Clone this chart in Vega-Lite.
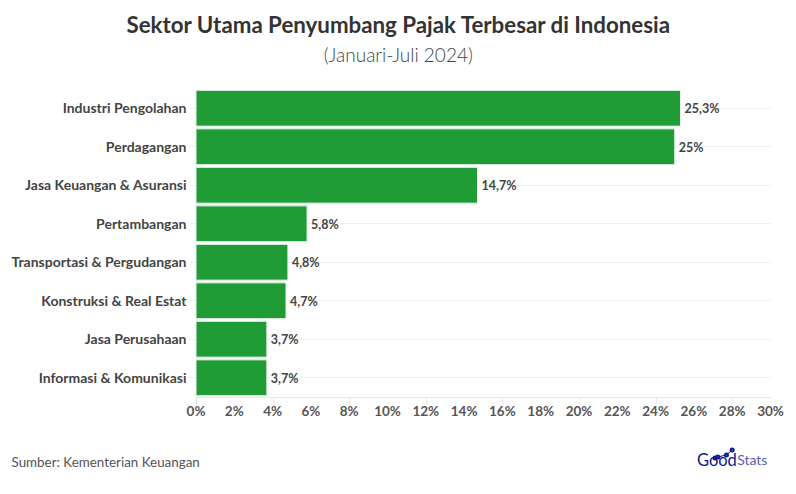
{
  "$schema": "https://vega.github.io/schema/vega-lite/v6.json",
  "description": "Sektor utama penyumbang pajak terbesar di Indonesia, Januari-Juli 2024.",
  "width": 574.5,
  "height": 308,
  "autosize": "none",
  "padding": {"left": 196, "top": 89, "right": 25.5, "bottom": 97},
  "background": "white",
  "config": {
    "font": "Lato",
    "view": {"stroke": null},
    "axisX": {
      "labels": false,
      "grid": false,
      "domainColor": "#e6e6e6",
      "tickColor": "#e6e6e6",
      "tickSize": 7,
      "titleAnchor": "start",
      "titleAlign": "left",
      "titleBaseline": "middle",
      "titleX": -185,
      "titleY": 65,
      "titleFontSize": 13.4,
      "titleFontWeight": "normal",
      "titleColor": "#555555"
    }
  },
  "title": {
    "text": "Sektor Utama Penyumbang Pajak Terbesar di Indonesia",
    "subtitle": "(Januari-Juli 2024)",
    "anchor": "middle",
    "frame": "group",
    "dx": -85,
    "offset": 23,
    "fontSize": 22.3,
    "fontWeight": "bold",
    "color": "#333333",
    "subtitleFontSize": 19,
    "subtitleFontWeight": 300,
    "subtitleColor": "#444444",
    "subtitlePadding": 10
  },
  "datasets": {
    "pajak": [
      {"sektor": "Industri Pengolahan", "persen": 25.3, "label": "25,3%"},
      {"sektor": "Perdagangan", "persen": 25, "label": "25%"},
      {"sektor": "Jasa Keuangan & Asuransi", "persen": 14.7, "label": "14,7%"},
      {"sektor": "Pertambangan", "persen": 5.8, "label": "5,8%"},
      {"sektor": "Transportasi & Pergudangan", "persen": 4.8, "label": "4,8%"},
      {"sektor": "Konstruksi & Real Estat", "persen": 4.7, "label": "4,7%"},
      {"sektor": "Jasa Perusahaan", "persen": 3.7, "label": "3,7%"},
      {"sektor": "Informasi & Komunikasi", "persen": 3.7, "label": "3,7%"}
    ],
    "sumbuX": [
      {"x": 0, "y": -0.049, "teks": "0%"},
      {"x": 2, "y": -0.049, "teks": "2%"},
      {"x": 4, "y": -0.049, "teks": "4%"},
      {"x": 6, "y": -0.049, "teks": "6%"},
      {"x": 8, "y": -0.049, "teks": "8%"},
      {"x": 10, "y": -0.049, "teks": "10%"},
      {"x": 12, "y": -0.049, "teks": "12%"},
      {"x": 14, "y": -0.049, "teks": "14%"},
      {"x": 16, "y": -0.049, "teks": "16%"},
      {"x": 18, "y": -0.049, "teks": "18%"},
      {"x": 20, "y": -0.049, "teks": "20%"},
      {"x": 22, "y": -0.049, "teks": "22%"},
      {"x": 24, "y": -0.049, "teks": "24%"},
      {"x": 26, "y": -0.049, "teks": "26%"},
      {"x": 28, "y": -0.049, "teks": "28%"},
      {"x": 30, "y": -0.049, "teks": "30%"}
    ],
    "logoTeks": [
      {"x": 27.2, "y": -0.208, "teks": "Good", "bagian": "a"},
      {"x": 29.05, "y": -0.208, "teks": "Stats", "bagian": "b"}
    ],
    "logoGaris": [
      {"x": 27.1, "y": -0.198},
      {"x": 27.25, "y": -0.195},
      {"x": 27.7, "y": -0.188},
      {"x": 28.0, "y": -0.172}
    ]
  },
  "layer": [
    {
      "data": {"name": "pajak"},
      "mark": {"type": "bar", "color": "#1f9c36", "stroke": "#e9f3eb", "strokeWidth": 1},
      "encoding": {
        "y": {
          "field": "sektor",
          "type": "nominal",
          "sort": null,
          "title": null,
          "scale": {"paddingInner": 0.07, "paddingOuter": 0.035},
          "axis": {
            "grid": true,
            "gridColor": "#eeeeee",
            "domainColor": "#e6e6e6",
            "tickColor": "#eeeeee",
            "tickSize": 7,
            "labelPadding": 3,
            "labelOffset": 1,
            "labelFontSize": 14,
            "labelFontWeight": "bold",
            "labelColor": "#444444",
            "labelLimit": 220
          }
        },
        "x": {
          "field": "persen",
          "type": "quantitative",
          "title": "Sumber: Kementerian Keuangan",
          "scale": {"domain": [0, 30], "nice": false},
          "axis": {
            "values": [0, 2, 4, 6, 8, 10, 12, 14, 16, 18, 20, 22, 24, 26, 28, 30],
            "labels": false
          }
        }
      }
    },
    {
      "data": {"name": "pajak"},
      "mark": {"type": "text", "align": "left", "dx": 4, "dy": 1, "fontSize": 12.5, "fontWeight": "bold", "color": "#444444"},
      "encoding": {
        "y": {
          "field": "sektor",
          "type": "nominal",
          "sort": null,
          "scale": {"paddingInner": 0.07, "paddingOuter": 0.035},
          "axis": null
        },
        "x": {"field": "persen", "type": "quantitative"},
        "text": {"field": "label"}
      }
    },
    {
      "data": {"name": "sumbuX"},
      "mark": {"type": "text", "baseline": "middle", "fontSize": 13.5, "fontWeight": "bold", "color": "#555555", "clip": false},
      "encoding": {
        "x": {"field": "x", "type": "quantitative"},
        "y": {"field": "y", "type": "quantitative", "scale": {"domain": [0, 1]}, "axis": null},
        "text": {"field": "teks"}
      }
    },
    {
      "data": {"name": "logoTeks"},
      "mark": {"type": "text", "baseline": "middle", "clip": false},
      "encoding": {
        "x": {"field": "x", "type": "quantitative"},
        "y": {"field": "y", "type": "quantitative", "scale": {"domain": [0, 1]}, "axis": null},
        "text": {"field": "teks"},
        "size": {"field": "bagian", "type": "nominal", "scale": {"domain": ["a", "b"], "range": [16.5, 14]}, "legend": null},
        "color": {"field": "bagian", "type": "nominal", "scale": {"domain": ["a", "b"], "range": ["#0b1a8c", "#5560b8"]}, "legend": null},
        "fontWeight": {"field": "bagian", "type": "nominal", "scale": {"domain": ["a", "b"], "range": [900, 300]}, "legend": null}
      }
    },
    {
      "data": {"name": "logoGaris"},
      "mark": {"type": "line", "color": "#0b1a8c", "strokeWidth": 1, "point": {"color": "#0b1a8c", "filled": false, "size": 9}},
      "encoding": {
        "x": {"field": "x", "type": "quantitative"},
        "y": {"field": "y", "type": "quantitative", "scale": {"domain": [0, 1]}, "axis": null}
      }
    }
  ],
  "resolve": {"scale": {"y": "independent"}}
}
